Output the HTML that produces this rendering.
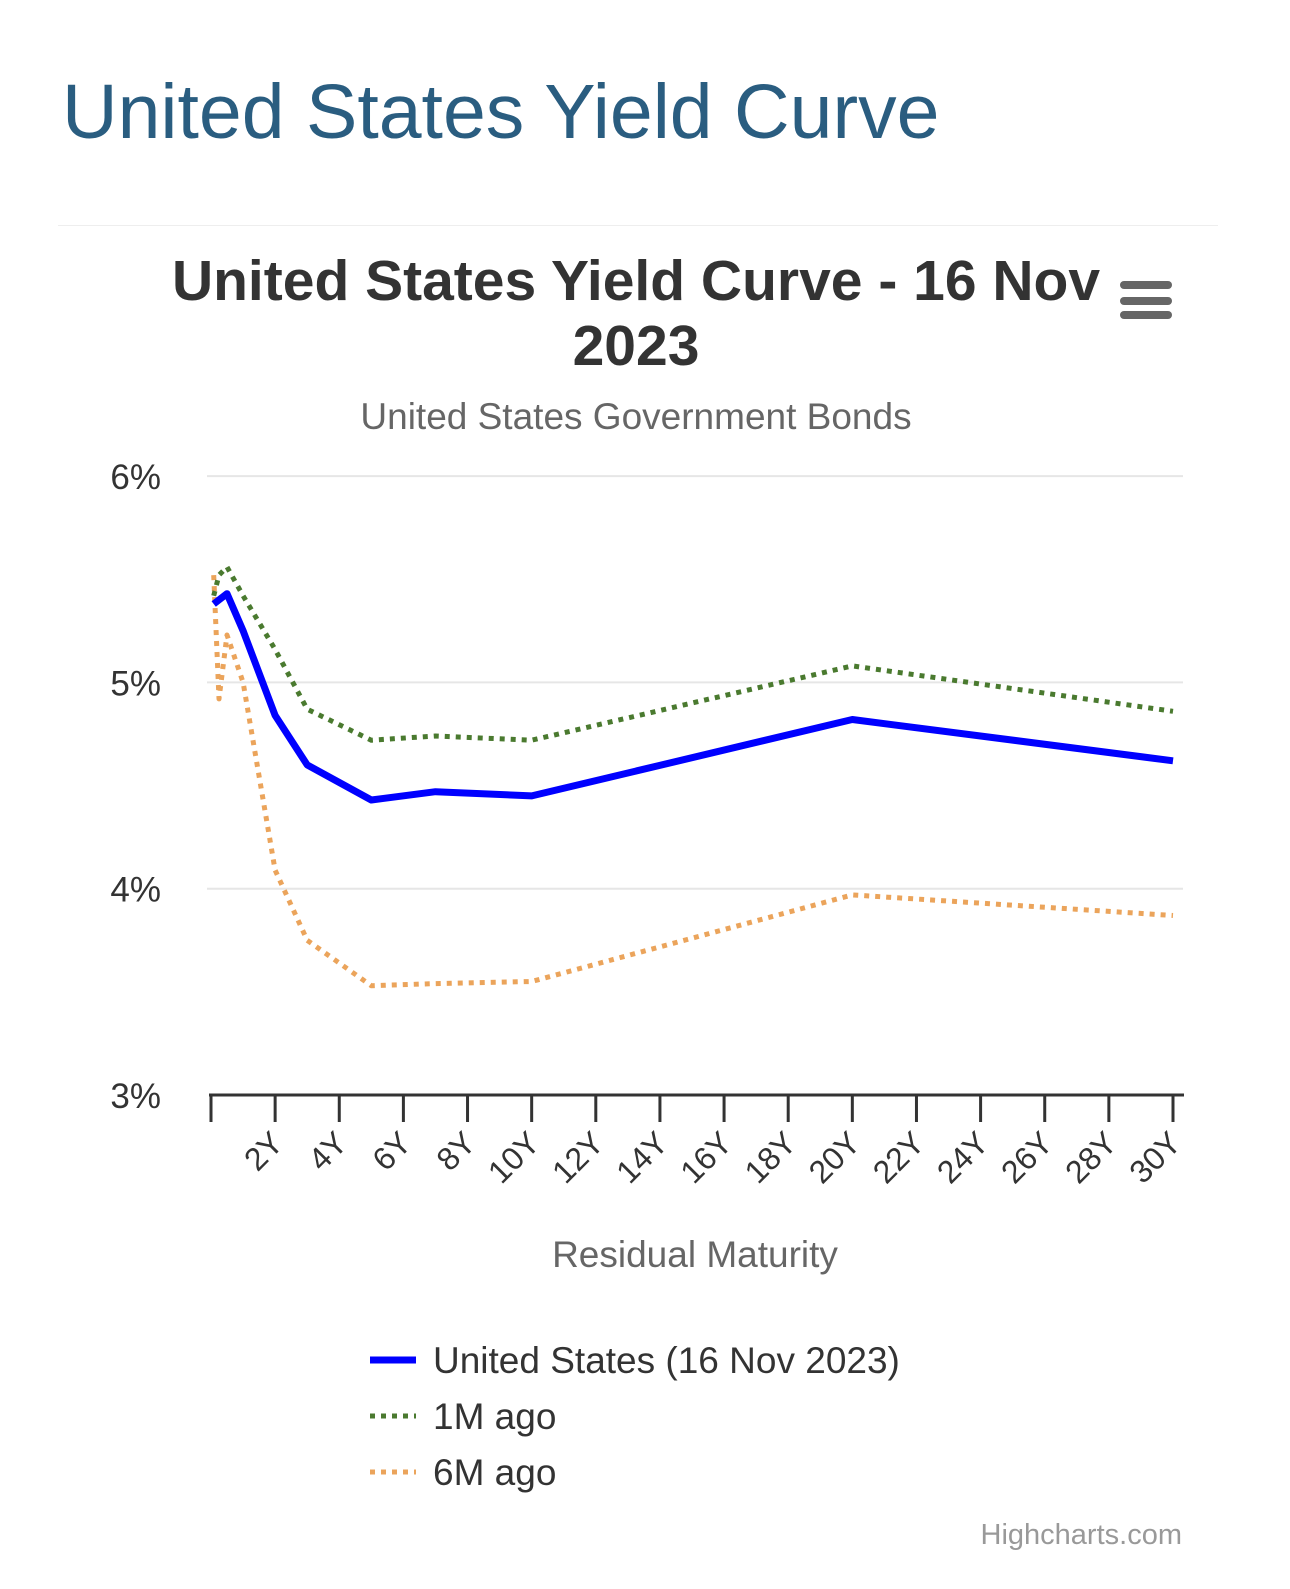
<!DOCTYPE html>
<html><head><meta charset="utf-8"><style>
body{margin:0;background:#fff;width:1290px;height:1589px;overflow:hidden;font-family:"Liberation Sans",sans-serif}
</style></head><body>
<div style="position:absolute;left:62px;top:68px;font-size:77px;color:#2a5d80">United States Yield Curve</div>
<div style="position:absolute;left:58px;top:225px;width:1160px;height:1px;background:#eee"></div>
<svg id="c" width="1290" height="1589" style="position:absolute;left:0;top:0">
<text x="636" y="300" text-anchor="middle" font-size="57" font-weight="bold" fill="#333">United States Yield Curve - 16 Nov</text>
<text x="636" y="365" text-anchor="middle" font-size="57" font-weight="bold" fill="#333">2023</text>
<text x="636" y="429" text-anchor="middle" font-size="37" fill="#666">United States Government Bonds</text>
<g fill="#666">
<rect x="1120" y="281" width="52" height="8" rx="4"/><rect x="1120" y="297" width="52" height="8" rx="4"/><rect x="1120" y="311" width="52" height="8" rx="4"/></g>
<text x="695" y="1267" text-anchor="middle" font-size="37" fill="#666">Residual Maturity</text>
<g id="legend"></g>
<text x="1182" y="1544" text-anchor="end" font-size="29" fill="#999">Highcharts.com</text>
</svg>
<script>
const maturities=[0.083,0.25,0.5,1,2,3,5,7,10,20,30];
const usNow=[5.38,5.40,5.43,5.25,4.84,4.60,4.43,4.47,4.45,4.82,4.62];
const ago1M=[5.42,5.52,5.56,5.42,5.16,4.87,4.72,4.74,4.72,5.08,4.86];
const ago6M=[5.52,4.92,5.23,5.00,4.09,3.75,3.53,3.54,3.55,3.97,3.87];
const yTicks=[3,4,5,6];
const xTicks=[2,4,6,8,10,12,14,16,18,20,22,24,26,28,30];
const svg=document.getElementById('c');const NS='http://www.w3.org/2000/svg';
const X=v=>211+v*(1173-211)/30;
const Y=v=>1095-(v-3)*206.3;
function mk(t,a,p){const e=document.createElementNS(NS,t);for(const k in a)e.setAttribute(k,a[k]);(p||svg).appendChild(e);return e;}
yTicks.forEach(v=>{
 if(v>3){const g=mk('line',{x1:207,x2:1183,y1:Y(v),y2:Y(v),stroke:'#e6e6e6','stroke-width':2});
 
 }
 const t=mk('text',{x:161,y:Y(v)+13,'text-anchor':'end','font-size':35,fill:'#333'});t.textContent=v+'%';
 
 
});
const ax=mk('line',{x1:209,x2:1184,y1:1095,y2:1095,stroke:'#333','stroke-width':3});


[0].concat(xTicks).forEach(v=>{
 const l=mk('line',{x1:X(v),x2:X(v),y1:1095,y2:1122,stroke:'#333','stroke-width':3});
 
 
 if(v>0){const t=mk('text',{x:0,y:0,'text-anchor':'end','font-size':32,fill:'#333',transform:`translate(${X(v)+10},${1145}) rotate(-45)`});t.textContent=v+'Y';
 
 }
});
function series(vals,color,dash,name){
 const d=maturities.map((m,i)=>(i?'L':'M')+X(m).toFixed(1)+','+Y(vals[i]).toFixed(1)).join(' ');
 const p=mk('path',{d,fill:'none',stroke:color,'stroke-width':dash?5:7,'stroke-dasharray':dash?'5,6':'none','stroke-linejoin':'round'});
 
 
}
series(ago6M,'#eba45b',true,'series-6m-ago');
series(ago1M,'#4a7a2f',true,'series-1m-ago');
series(usNow,'#0000ff',false,'series-us-now');
const leg=[['United States (16 Nov 2023)','#0000ff',false],['1M ago','#4a7a2f',true],['6M ago','#eba45b',true]];
leg.forEach((e,i)=>{
 const y=1360+i*56;
 const g=mk('g',{});
 
 
 mk('line',{x1:370,x2:416,y1:y,y2:y,stroke:e[1],'stroke-width':e[2]?5:7,'stroke-dasharray':e[2]?'5,6':'none'},g);
 const t=mk('text',{x:433,y:y+13,'font-size':37,fill:'#333'},g);t.textContent=e[0];
});
</script>
</body></html>
